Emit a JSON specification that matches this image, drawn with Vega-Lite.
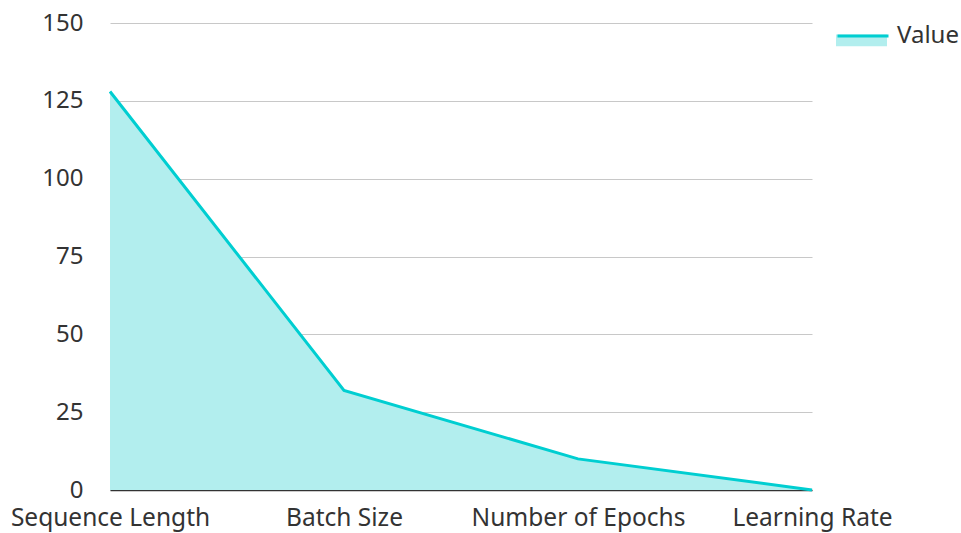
{
  "$schema": "https://vega.github.io/schema/vega-lite/v6.json",
  "autosize": "none",
  "width": 702,
  "height": 467,
  "padding": {"left": 110, "top": 23, "right": 149, "bottom": 43},
  "background": "white",
  "config": {
    "font": "Noto Sans",
    "view": {"stroke": null}
  },
  "data": {
    "values": [
      {"param": "Sequence Length", "value": 128, "series": "Value"},
      {"param": "Batch Size", "value": 32, "series": "Value"},
      {"param": "Number of Epochs", "value": 10, "series": "Value"},
      {"param": "Learning Rate", "value": 0.001, "series": "Value"}
    ]
  },
  "encoding": {
    "x": {
      "field": "param", "type": "ordinal", "sort": null,
      "scale": {"type": "point", "padding": 0},
      "axis": {"title": null, "labelAngle": 0, "labelFontSize": 24.5, "labelLimit": 400, "labelColor": "#333333", "ticks": false, "labelPadding": 16, "domainColor": "#333333", "domainWidth": 1.5, "grid": false}
    },
    "y": {
      "field": "value", "type": "quantitative",
      "scale": {"domain": [0, 150], "nice": false},
      "axis": {"title": null, "values": [0, 25, 50, 75, 100, 125, 150], "labelFontSize": 24, "labelColor": "#333333", "ticks": false, "domain": false, "labelPadding": 27, "gridColor": "#c8c8c8", "gridWidth": 1}
    }
  },
  "layer": [
    {
      "mark": {"type": "area", "opacity": 1},
      "encoding": {
        "fill": {"field": "series", "type": "nominal", "scale": {"range": ["#b2eeee"]},
          "legend": {"orient": "none", "legendX": 726, "legendY": -14, "title": null, "labelFontSize": 24, "labelExpr": "''", "symbolType": "M-1,0H1V0.46H-1Z", "symbolSize": 2600, "symbolStrokeWidth": 0, "labelOffset": 8}}
      }
    },
    {
      "mark": {"type": "line", "strokeWidth": 3},
      "encoding": {
        "stroke": {"field": "series", "type": "nominal", "scale": {"range": ["#00ced1"]},
          "legend": {"orient": "none", "legendX": 726, "legendY": -14, "title": null, "labelFontSize": 24, "labelColor": "#333333", "symbolType": "M-1,0H1", "symbolSize": 2600, "symbolStrokeWidth": 3, "labelOffset": 7}}
      }
    },
    {
      "mark": {"type": "rule", "color": "#333333", "strokeWidth": 1.5},
      "encoding": {"y": {"datum": 0}}
    }
  ],
  "resolve": {"scale": {"fill": "independent", "stroke": "independent"}}
}
